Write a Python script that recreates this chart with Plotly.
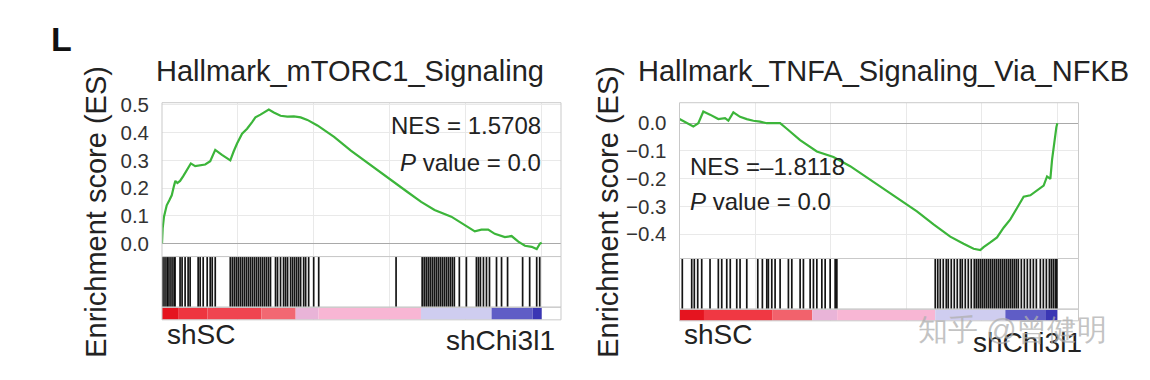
import plotly.graph_objects as go
import numpy as np

W, H = 1150, 380
OX, OY = 8, 8  # page body margin of the rendered html

# ---------------- data ----------------
titles = ["Hallmark_mTORC1_Signaling", "Hallmark_TNFA_Signaling_Via_NFKB"]
nes_text = ["NES = 1.5708", "NES =\u20131.8118"]
p_text = ["<i>P</i> value = 0.0", "<i>P</i> value = 0.0"]
group_left = "shSC"
group_right = "shChi3l1"
y_title = "Enrichment score (ES)"

# running enrichment score (rank, ES) - left panel
es_rank_L = [0, 46, 132, 311, 483, 642, 794, 880, 1012, 1190, 1409, 1673, 1898, 2183, 2513,
             2844, 3175, 3505, 3948, 4497, 4716, 4941, 5272, 5602, 5933, 6151, 6482, 6812,
             7031, 7362, 7804, 8248, 8684, 9127, 9571, 10232, 11330, 12435, 13096, 13976,
             15080, 16185, 17064, 17944, 19048, 19934, 20595, 21031, 21475, 21911, 22573,
             23017, 23460, 23896, 24340, 24670, 24889, 25000]
es_L = [0, 0.056, 0.097, 0.138, 0.156, 0.174, 0.209, 0.226, 0.218, 0.226, 0.244, 0.268, 0.289,
        0.279, 0.282, 0.285, 0.297, 0.338, 0.320, 0.300, 0.332, 0.361, 0.396, 0.414, 0.438,
        0.455, 0.465, 0.476, 0.483, 0.473, 0.461, 0.458, 0.459, 0.455, 0.446, 0.426, 0.385,
        0.335, 0.308, 0.273, 0.229, 0.185, 0.150, 0.121, 0.097, 0.068, 0.044, 0.050, 0.050,
        0.035, 0.023, 0.027, 0.007, -0.008, -0.012, -0.020, 0.0, 0.003]

# running enrichment score - right panel
es_rank_R = [0, 477, 914, 1245, 1576, 2020, 2570, 3013, 3232, 3563, 4007, 4451, 4888, 5331,
             5775, 6212, 6656, 7100, 7981, 9087, 10186, 11292, 12398, 13498, 14604, 15710,
             16809, 17915, 18796, 19458, 19902, 20121, 20565, 21008, 21445, 21889, 22333,
             22770, 23214, 23657, 24094, 24319, 24538, 24651, 24803, 24936, 25000]
es_R = [0.015, 0.0, -0.012, 0.0, 0.042, 0.031, 0.015, 0.018, 0.009, 0.039, 0.023, 0.015,
        0.009, 0.006, 0.0, 0.0, 0.0, -0.020, -0.061, -0.102, -0.122, -0.155, -0.195, -0.236,
        -0.277, -0.318, -0.365, -0.409, -0.435, -0.453, -0.458, -0.447, -0.430, -0.412,
        -0.377, -0.347, -0.306, -0.265, -0.260, -0.242, -0.225, -0.192, -0.201, -0.131,
        -0.061, -0.014, 0.0]

# gene-set hit positions (rank)
hits_L = [0, 66, 198, 331, 397, 529, 661, 794, 860, 1190, 1323, 1521, 1720, 1852, 2381, 2513,
          2712, 2976, 3175, 3307, 3505, 4497, 4630, 4762, 4894, 5026, 5159, 5291, 5423, 5556,
          5688, 5820, 5952, 6085, 6217, 6349, 6482, 6614, 6746, 6878, 7011, 7143, 7474, 7606,
          7804, 8003, 8135, 8268, 8466, 8598, 8730, 8863, 8995, 9127, 9326, 9458, 9656, 9987,
          10318, 15411, 17130, 17262, 17395, 17527, 17659, 17792, 17924, 18056, 18188, 18321,
          18453, 18585, 18718, 18850, 18982, 19114, 19247, 19577, 20040, 20701, 20834, 20966,
          21164, 21363, 21561, 22024, 22355, 22752, 23744, 24207, 24670, 24869]
hits_R = [185, 808, 980, 1205, 1470, 2020, 2570, 2795, 3126, 3358, 3788, 4007, 4451, 5179,
          5484, 5775, 5881, 6106, 6325, 6656, 7206, 7431, 7981, 8199, 8644, 8862, 9087, 9418,
          9637, 9968, 10299, 10411, 16922, 17087, 17253, 17452, 17651, 17783, 17982, 18180,
          18379, 18578, 18710, 18909, 19107, 19306, 19505, 19637, 19770, 19902, 20035, 20167,
          20300, 20432, 20565, 20697, 20830, 20962, 21095, 21227, 21360, 21492, 21624, 21757,
          21889, 22022, 22154, 22287, 22419, 22618, 22817, 23015, 23214, 23413, 23611, 23876,
          24075, 24274, 24473, 24605, 24737, 24870, 24969]

# ranked-list colour bar segments
bar_edges_L = [0, 1060, 3000, 6550, 8800, 10300, 17050, 21700, 24400, 25000]
bar_colors_L = ["#e5141f", "#ee3540", "#f04450", "#f26872", "#e9b4d8", "#f8b6d4", "#cfcdf0",
                "#5f5dc6", "#3a36b4"]
bar_edges_R = [0, 1620, 6130, 8780, 10430, 16920, 21560, 24200, 25000]
bar_colors_R = ["#e5141f", "#f03843", "#f2626c", "#e9b4d8", "#f8b6d4", "#cfcdf0", "#5f5dc6",
                "#3a36b4"]

# ---------------- layout helpers ----------------
def pxx(x):
    return (x - OX) / W

def pxy(y):
    return 1 - (y - OY) / H

FONT = "Liberation Sans, Arial, sans-serif"
GREEN = "#3cb53a"
FRAME = "#c9c9c9"
GRID = "#e9e9e9"

panels = [
    dict(x0=162, x1=561, xmax=26270, es=(95, 253), hit=(253, 305), bar=(305, 318),
         yr=[-0.047, 0.508], ticks=[0, 0.1, 0.2, 0.3, 0.4, 0.5],
         rank=es_rank_L, es_vals=es_L, hits=hits_L, edges=bar_edges_L, colors=bar_colors_L),
    dict(x0=679.5, x1=1078.5, xmax=26400, es=(95, 255), hit=(255, 307), bar=(307, 319),
         yr=[-0.488, 0.074], ticks=[0, -0.1, -0.2, -0.3, -0.4],
         rank=es_rank_R, es_vals=es_R, hits=hits_R, edges=bar_edges_R, colors=bar_colors_R),
]

fig = go.Figure()
layout = dict(width=W, height=H, margin=dict(l=0, r=0, t=0, b=0),
              paper_bgcolor="white", plot_bgcolor="white", showlegend=False,
              barmode="overlay", font=dict(family=FONT, color="#222"))
shapes = []

for i, p in enumerate(panels):
    xa = "x" if i == 0 else "x2"
    xkey = "xaxis" if i == 0 else "xaxis2"
    yids = [3 * i + 1, 3 * i + 2, 3 * i + 3]
    ynames = ["y" if k == 1 else f"y{k}" for k in yids]
    ykeys = ["yaxis" if k == 1 else f"yaxis{k}" for k in yids]

    layout[xkey] = dict(domain=[pxx(p["x0"]), pxx(p["x1"])], range=[0, p["xmax"]],
                        anchor=ynames[2], showticklabels=False, ticks="", showline=False,
                        zeroline=False, showgrid=True, gridcolor=GRID, gridwidth=1,
                        tick0=0, dtick=5000)
    # ES axis
    layout[ykeys[0]] = dict(domain=[pxy(p["es"][1]), pxy(p["es"][0])], range=p["yr"],
                            anchor=xa, tickvals=p["ticks"], tickformat=".1f",
                            tickfont=dict(size=20.5, color="#333", family=FONT),
                            ticks="", ticklabelstandoff=12,
                            showgrid=True, gridcolor=GRID, gridwidth=1,
                            zeroline=True, zerolinecolor="#a9a9a9", zerolinewidth=1.2,
                            showline=False)
    # hits axis
    layout[ykeys[1]] = dict(domain=[pxy(p["hit"][1]), pxy(p["hit"][0])], range=[0, 1],
                            anchor=xa, showticklabels=False, showgrid=False, zeroline=False,
                            ticks="")
    # colour bar axis
    layout[ykeys[2]] = dict(domain=[pxy(p["bar"][1]), pxy(p["bar"][0])], range=[-0.5, 0.5],
                            anchor=xa, showticklabels=False, showgrid=False, zeroline=False,
                            ticks="")

    # colour bar
    edges = np.array(p["edges"], dtype=float)
    fig.add_trace(go.Bar(orientation="h", base=edges[:-1], x=np.diff(edges),
                         y=[0] * (len(edges) - 1), width=1.0,
                         marker=dict(color=p["colors"], line=dict(width=0)),
                         xaxis=xa, yaxis=ynames[2], hoverinfo="skip"))
    # hits
    hx, hy = [], []
    for h in p["hits"]:
        hx += [h, h, None]
        hy += [0, 1, None]
    fig.add_trace(go.Scatter(x=hx, y=hy, mode="lines",
                             line=dict(color="rgba(0,0,0,0.92)", width=1.7),
                             xaxis=xa, yaxis=ynames[1], hoverinfo="skip"))
    # running ES
    fig.add_trace(go.Scatter(x=p["rank"], y=p["es_vals"], mode="lines",
                             line=dict(color=GREEN, width=2.2),
                             xaxis=xa, yaxis=ynames[0], hoverinfo="skip"))

    # frames
    for yn in ynames:
        shapes.append(dict(type="rect", xref=f"{xa} domain", yref=f"{yn} domain",
                           x0=0, x1=1, y0=0, y1=1, line=dict(color=FRAME, width=1),
                           fillcolor="rgba(0,0,0,0)", layer="above"))

layout["shapes"] = shapes

ann = []
def text(x, y, s, size, xanchor="left", yanchor="middle", textangle=0, color="#222", bold=False):
    ann.append(dict(x=pxx(x), y=pxy(y), xref="paper", yref="paper", text=s, showarrow=False,
                    xanchor=xanchor, yanchor=yanchor, textangle=textangle,
                    font=dict(size=size, color=color, family=FONT,
                              weight="bold" if bold else "normal")))

text(62, 30, "L", 34, xanchor="center", bold=True, color="#111")
text(154, 62, titles[0], 29)
text(636, 62, titles[1], 29)
text(96, 207, y_title, 29, xanchor="center", textangle=-90)
text(608, 207, y_title, 29, xanchor="center", textangle=-90)
text(543, 118, nes_text[0], 24, xanchor="right")
text(543, 156, p_text[0], 24, xanchor="right")
text(688, 161, nes_text[1], 24)
text(688, 196, p_text[1], 24)
text(165, 333, group_left, 28)
text(557, 339, group_right, 28, xanchor="right")
text(682, 333, group_left, 28)
text(1084, 341, group_right, 28, xanchor="right")
text(1012, 328, "知乎 @曾健明", 30, xanchor="center", color="rgba(175,175,175,0.75)")
layout["annotations"] = ann

fig.update_layout(**layout)
fig.write_html("out.html")
